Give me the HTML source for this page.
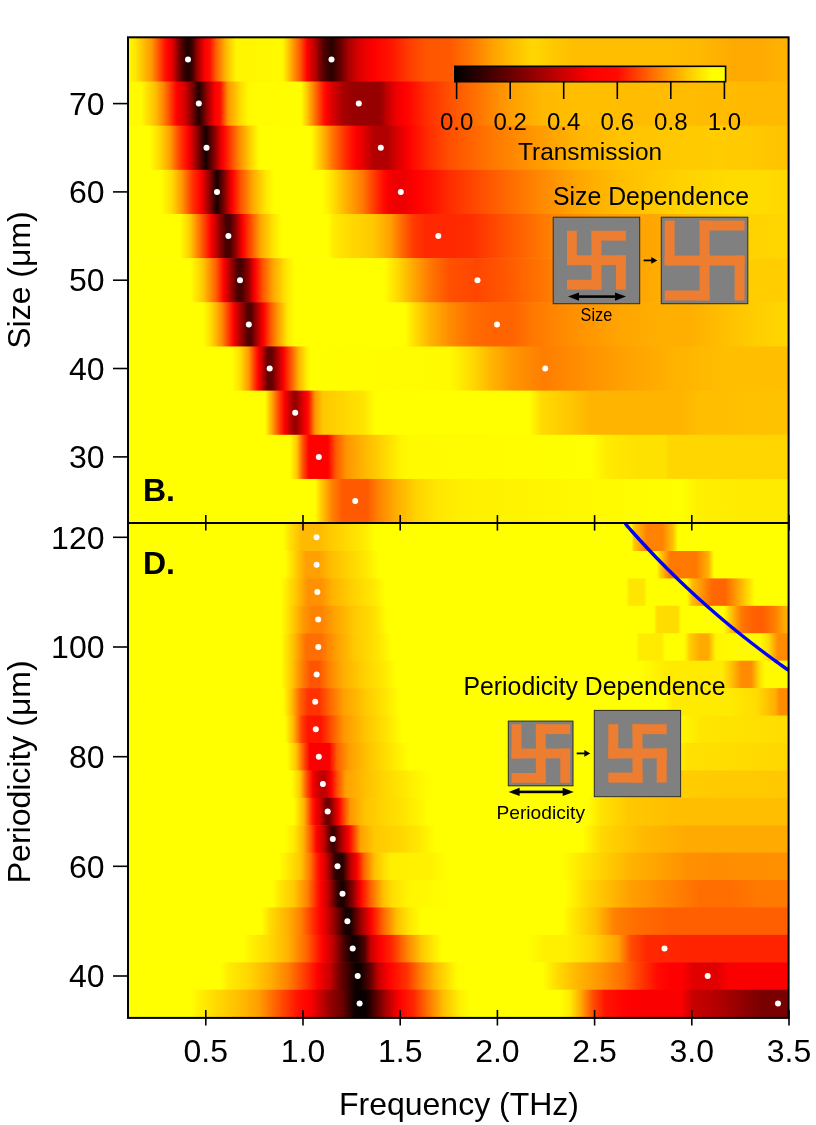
<!DOCTYPE html>
<html><head><meta charset="utf-8"><style>
html,body{margin:0;padding:0;background:#fff;}
svg{display:block;}
.ax{font-family:"Liberation Sans",Arial,sans-serif;font-size:32px;fill:#000;}
.bold{font-family:"Liberation Sans",Arial,sans-serif;font-size:32px;font-weight:bold;fill:#000;}
.cal{font-family:"Liberation Sans",Arial,sans-serif;fill:#000;}
</style></head><body>
<svg width="816" height="1125" viewBox="0 0 816 1125">
<rect width="816" height="1125" fill="#fff"/>
<defs><linearGradient id="g1" gradientUnits="userSpaceOnUse" x1="128.0" y1="0" x2="788.6" y2="0"><stop offset="0.0000" stop-color="#fffa00"/><stop offset="0.0112" stop-color="#ffe600"/><stop offset="0.0238" stop-color="#ffbe00"/><stop offset="0.0363" stop-color="#ff9600"/><stop offset="0.0469" stop-color="#ff5000"/><stop offset="0.0560" stop-color="#ff1400"/><stop offset="0.0613" stop-color="#ff0000"/><stop offset="0.0684" stop-color="#dc0000"/><stop offset="0.0772" stop-color="#780000"/><stop offset="0.0863" stop-color="#320000"/><stop offset="0.0908" stop-color="#1e0000"/><stop offset="0.0969" stop-color="#3c0000"/><stop offset="0.1045" stop-color="#960000"/><stop offset="0.1166" stop-color="#ff0000"/><stop offset="0.1241" stop-color="#ff0f00"/><stop offset="0.1332" stop-color="#ff5f00"/><stop offset="0.1483" stop-color="#ffb900"/><stop offset="0.1635" stop-color="#fff500"/><stop offset="0.2331" stop-color="#fffa00"/><stop offset="0.2392" stop-color="#ffdc00"/><stop offset="0.2490" stop-color="#ffa000"/><stop offset="0.2619" stop-color="#ff5000"/><stop offset="0.2710" stop-color="#ff0000"/><stop offset="0.2837" stop-color="#b40000"/><stop offset="0.2964" stop-color="#500000"/><stop offset="0.3084" stop-color="#280000"/><stop offset="0.3215" stop-color="#640000"/><stop offset="0.3342" stop-color="#aa0000"/><stop offset="0.3497" stop-color="#dc0000"/><stop offset="0.3721" stop-color="#ff0000"/><stop offset="0.3972" stop-color="#ff1400"/><stop offset="0.4254" stop-color="#ff3c00"/><stop offset="0.4508" stop-color="#ff5500"/><stop offset="0.4874" stop-color="#ff5a00"/><stop offset="0.5192" stop-color="#ff7800"/><stop offset="0.5506" stop-color="#ffa000"/><stop offset="0.5820" stop-color="#ffbe00"/><stop offset="0.6131" stop-color="#ffd700"/><stop offset="0.6449" stop-color="#ffc800"/><stop offset="0.6767" stop-color="#ffbe00"/><stop offset="0.8053" stop-color="#ffbe00"/><stop offset="0.8659" stop-color="#ffb900"/><stop offset="0.9158" stop-color="#ffaa00"/><stop offset="0.9567" stop-color="#ffaa00"/><stop offset="1.0000" stop-color="#ffb400"/></linearGradient>
<linearGradient id="g2" gradientUnits="userSpaceOnUse" x1="128.0" y1="0" x2="788.6" y2="0"><stop offset="0.0000" stop-color="#fffa00"/><stop offset="0.0203" stop-color="#fffa00"/><stop offset="0.0288" stop-color="#ffe100"/><stop offset="0.0416" stop-color="#ffbe00"/><stop offset="0.0542" stop-color="#ff8200"/><stop offset="0.0649" stop-color="#ff3c00"/><stop offset="0.0739" stop-color="#ff0000"/><stop offset="0.0846" stop-color="#dc0000"/><stop offset="0.0946" stop-color="#960000"/><stop offset="0.1075" stop-color="#1e0000"/><stop offset="0.1196" stop-color="#960000"/><stop offset="0.1317" stop-color="#ff0000"/><stop offset="0.1393" stop-color="#ff0a00"/><stop offset="0.1514" stop-color="#ff9600"/><stop offset="0.1703" stop-color="#ffdc00"/><stop offset="0.1832" stop-color="#fffa00"/><stop offset="0.2619" stop-color="#ffff00"/><stop offset="0.2710" stop-color="#ffc800"/><stop offset="0.2837" stop-color="#ff6e00"/><stop offset="0.2964" stop-color="#ff1400"/><stop offset="0.3009" stop-color="#ff0000"/><stop offset="0.3088" stop-color="#dc0000"/><stop offset="0.3247" stop-color="#aa0000"/><stop offset="0.3436" stop-color="#960000"/><stop offset="0.3815" stop-color="#960000"/><stop offset="0.3936" stop-color="#c80000"/><stop offset="0.4068" stop-color="#f00000"/><stop offset="0.4194" stop-color="#ff0000"/><stop offset="0.4254" stop-color="#ff0700"/><stop offset="0.4508" stop-color="#ff2d00"/><stop offset="0.4874" stop-color="#ff5000"/><stop offset="0.5344" stop-color="#ff7800"/><stop offset="0.5813" stop-color="#ffa000"/><stop offset="0.6297" stop-color="#ffb900"/><stop offset="0.6767" stop-color="#ffbe00"/><stop offset="1.0000" stop-color="#ffb900"/></linearGradient>
<linearGradient id="g3" gradientUnits="userSpaceOnUse" x1="128.0" y1="0" x2="788.6" y2="0"><stop offset="0.0000" stop-color="#ffff00"/><stop offset="0.0327" stop-color="#ffff00"/><stop offset="0.0469" stop-color="#ffdc00"/><stop offset="0.0631" stop-color="#ffa000"/><stop offset="0.0787" stop-color="#ff3c00"/><stop offset="0.0914" stop-color="#ff0000"/><stop offset="0.1040" stop-color="#960000"/><stop offset="0.1166" stop-color="#1e0000"/><stop offset="0.1185" stop-color="#1c0000"/><stop offset="0.1293" stop-color="#780000"/><stop offset="0.1418" stop-color="#f00000"/><stop offset="0.1444" stop-color="#ff0000"/><stop offset="0.1514" stop-color="#ff2800"/><stop offset="0.1671" stop-color="#ff8200"/><stop offset="0.1829" stop-color="#ffc800"/><stop offset="0.1983" stop-color="#ffff00"/><stop offset="0.2770" stop-color="#ffff00"/><stop offset="0.2932" stop-color="#ffbe00"/><stop offset="0.3088" stop-color="#ff7800"/><stop offset="0.3247" stop-color="#ff3c00"/><stop offset="0.3406" stop-color="#ff0a00"/><stop offset="0.3449" stop-color="#ff0000"/><stop offset="0.3557" stop-color="#e60000"/><stop offset="0.3724" stop-color="#b20000"/><stop offset="0.3936" stop-color="#b20000"/><stop offset="0.4068" stop-color="#d70000"/><stop offset="0.4254" stop-color="#ff0000"/><stop offset="0.4511" stop-color="#ff2800"/><stop offset="0.4874" stop-color="#ff5000"/><stop offset="0.5506" stop-color="#ff7800"/><stop offset="0.6131" stop-color="#ff9600"/><stop offset="0.6767" stop-color="#ffb400"/><stop offset="0.7448" stop-color="#ffc300"/><stop offset="0.8962" stop-color="#ffcd00"/><stop offset="1.0000" stop-color="#ffc300"/></linearGradient>
<linearGradient id="g4" gradientUnits="userSpaceOnUse" x1="128.0" y1="0" x2="788.6" y2="0"><stop offset="0.0000" stop-color="#ffff00"/><stop offset="0.0500" stop-color="#ffff00"/><stop offset="0.0662" stop-color="#ffdc00"/><stop offset="0.0817" stop-color="#ff9600"/><stop offset="0.0978" stop-color="#ff3200"/><stop offset="0.1105" stop-color="#ff0000"/><stop offset="0.1226" stop-color="#960000"/><stop offset="0.1340" stop-color="#1e0000"/><stop offset="0.1355" stop-color="#1e0000"/><stop offset="0.1450" stop-color="#780000"/><stop offset="0.1574" stop-color="#fa0000"/><stop offset="0.1582" stop-color="#ff0000"/><stop offset="0.1703" stop-color="#ff5000"/><stop offset="0.1892" stop-color="#ffaa00"/><stop offset="0.2081" stop-color="#ffe600"/><stop offset="0.2210" stop-color="#ffff00"/><stop offset="0.2932" stop-color="#ffff00"/><stop offset="0.3058" stop-color="#ffeb00"/><stop offset="0.3247" stop-color="#ffbe00"/><stop offset="0.3557" stop-color="#ff7800"/><stop offset="0.3721" stop-color="#ff3c00"/><stop offset="0.3875" stop-color="#ff0a00"/><stop offset="0.3927" stop-color="#ff0000"/><stop offset="0.4004" stop-color="#f00000"/><stop offset="0.4193" stop-color="#ee0000"/><stop offset="0.4345" stop-color="#ff0000"/><stop offset="0.4572" stop-color="#ff0f00"/><stop offset="0.4874" stop-color="#ff2d00"/><stop offset="0.5506" stop-color="#ff5a00"/><stop offset="0.6131" stop-color="#ff8200"/><stop offset="0.6767" stop-color="#ffa500"/><stop offset="0.7448" stop-color="#ffbe00"/><stop offset="0.8356" stop-color="#ffd200"/><stop offset="0.9158" stop-color="#ffdc00"/><stop offset="0.9628" stop-color="#ffdc00"/><stop offset="1.0000" stop-color="#ffd700"/></linearGradient>
<linearGradient id="g5" gradientUnits="userSpaceOnUse" x1="128.0" y1="0" x2="788.6" y2="0"><stop offset="0.0000" stop-color="#ffff00"/><stop offset="0.0787" stop-color="#ffff00"/><stop offset="0.0946" stop-color="#ffc800"/><stop offset="0.1105" stop-color="#ff6400"/><stop offset="0.1256" stop-color="#ff0000"/><stop offset="0.1388" stop-color="#960000"/><stop offset="0.1483" stop-color="#460000"/><stop offset="0.1544" stop-color="#460000"/><stop offset="0.1635" stop-color="#960000"/><stop offset="0.1735" stop-color="#ff0000"/><stop offset="0.1862" stop-color="#ff5000"/><stop offset="0.2013" stop-color="#ffaa00"/><stop offset="0.2207" stop-color="#ffe600"/><stop offset="0.2331" stop-color="#ffff00"/><stop offset="0.3028" stop-color="#ffff00"/><stop offset="0.3118" stop-color="#ffeb00"/><stop offset="0.3406" stop-color="#ffd700"/><stop offset="0.3721" stop-color="#ffc800"/><stop offset="0.3972" stop-color="#ffa000"/><stop offset="0.4130" stop-color="#ff6e00"/><stop offset="0.4314" stop-color="#ff3c00"/><stop offset="0.4511" stop-color="#ff2800"/><stop offset="0.4874" stop-color="#ff2800"/><stop offset="0.5192" stop-color="#ff2d00"/><stop offset="0.5662" stop-color="#ff5000"/><stop offset="0.6131" stop-color="#ff6e00"/><stop offset="0.6418" stop-color="#ff8200"/><stop offset="0.7145" stop-color="#ff9b00"/><stop offset="0.7902" stop-color="#ffa500"/><stop offset="0.8659" stop-color="#ffbe00"/><stop offset="0.9385" stop-color="#ffd200"/><stop offset="1.0000" stop-color="#ffd700"/></linearGradient>
<linearGradient id="g6" gradientUnits="userSpaceOnUse" x1="128.0" y1="0" x2="788.6" y2="0"><stop offset="0.0000" stop-color="#ffff00"/><stop offset="0.0946" stop-color="#ffff00"/><stop offset="0.1135" stop-color="#ffc800"/><stop offset="0.1325" stop-color="#ff6400"/><stop offset="0.1450" stop-color="#ff0000"/><stop offset="0.1574" stop-color="#960000"/><stop offset="0.1665" stop-color="#460000"/><stop offset="0.1718" stop-color="#460000"/><stop offset="0.1829" stop-color="#960000"/><stop offset="0.1922" stop-color="#ff0000"/><stop offset="0.2050" stop-color="#ff5a00"/><stop offset="0.2207" stop-color="#ffaa00"/><stop offset="0.2392" stop-color="#ffe600"/><stop offset="0.2528" stop-color="#ffff00"/><stop offset="0.3875" stop-color="#ffff00"/><stop offset="0.4068" stop-color="#ffdc00"/><stop offset="0.4314" stop-color="#ffaa00"/><stop offset="0.4572" stop-color="#ff7800"/><stop offset="0.4874" stop-color="#ff5000"/><stop offset="0.5283" stop-color="#ff4600"/><stop offset="0.5662" stop-color="#ff5500"/><stop offset="0.6131" stop-color="#ff6e00"/><stop offset="0.6418" stop-color="#ff7d00"/><stop offset="0.7145" stop-color="#ff9600"/><stop offset="0.7902" stop-color="#ffaa00"/><stop offset="0.8659" stop-color="#ffbe00"/><stop offset="0.9385" stop-color="#ffcd00"/><stop offset="1.0000" stop-color="#ffcd00"/></linearGradient>
<linearGradient id="g7" gradientUnits="userSpaceOnUse" x1="128.0" y1="0" x2="788.6" y2="0"><stop offset="0.0000" stop-color="#ffff00"/><stop offset="0.1135" stop-color="#ffff00"/><stop offset="0.1256" stop-color="#ffdc00"/><stop offset="0.1418" stop-color="#ff8c00"/><stop offset="0.1574" stop-color="#ff1400"/><stop offset="0.1599" stop-color="#ff0000"/><stop offset="0.1703" stop-color="#aa0000"/><stop offset="0.1817" stop-color="#500000"/><stop offset="0.1862" stop-color="#500000"/><stop offset="0.1953" stop-color="#aa0000"/><stop offset="0.2050" stop-color="#ff0000"/><stop offset="0.2177" stop-color="#ff6400"/><stop offset="0.2331" stop-color="#ffbe00"/><stop offset="0.2422" stop-color="#ffeb00"/><stop offset="0.2522" stop-color="#ffff00"/><stop offset="0.4193" stop-color="#ffff00"/><stop offset="0.4351" stop-color="#ffdc00"/><stop offset="0.4572" stop-color="#ffb400"/><stop offset="0.4874" stop-color="#ff8c00"/><stop offset="0.5192" stop-color="#ff6e00"/><stop offset="0.5506" stop-color="#ff6400"/><stop offset="0.5820" stop-color="#ff6400"/><stop offset="0.6131" stop-color="#ff7800"/><stop offset="0.6609" stop-color="#ff8c00"/><stop offset="0.7448" stop-color="#ffa500"/><stop offset="0.8053" stop-color="#ffaf00"/><stop offset="0.8507" stop-color="#ffaf00"/><stop offset="0.8992" stop-color="#ffbe00"/><stop offset="0.9476" stop-color="#ffcd00"/><stop offset="1.0000" stop-color="#ffd700"/></linearGradient>
<linearGradient id="g8" gradientUnits="userSpaceOnUse" x1="128.0" y1="0" x2="788.6" y2="0"><stop offset="0.0000" stop-color="#ffff00"/><stop offset="0.1574" stop-color="#ffff00"/><stop offset="0.1703" stop-color="#ffdc00"/><stop offset="0.1829" stop-color="#ff9600"/><stop offset="0.1922" stop-color="#ff3200"/><stop offset="0.1976" stop-color="#ff0000"/><stop offset="0.2013" stop-color="#dc0000"/><stop offset="0.2113" stop-color="#640000"/><stop offset="0.2177" stop-color="#640000"/><stop offset="0.2271" stop-color="#b40000"/><stop offset="0.2356" stop-color="#ff0000"/><stop offset="0.2361" stop-color="#ff0500"/><stop offset="0.2458" stop-color="#ff5000"/><stop offset="0.2586" stop-color="#ffb400"/><stop offset="0.2710" stop-color="#fff000"/><stop offset="0.2770" stop-color="#ffff00"/><stop offset="0.4874" stop-color="#fffa00"/><stop offset="0.5192" stop-color="#ffdc00"/><stop offset="0.5506" stop-color="#ffb400"/><stop offset="0.5820" stop-color="#ff9600"/><stop offset="0.6294" stop-color="#ff7d00"/><stop offset="0.6767" stop-color="#ff8c00"/><stop offset="0.7448" stop-color="#ffa000"/><stop offset="0.8356" stop-color="#ffb400"/><stop offset="0.9037" stop-color="#ffbe00"/><stop offset="1.0000" stop-color="#ffbe00"/></linearGradient>
<linearGradient id="g9" gradientUnits="userSpaceOnUse" x1="128.0" y1="0" x2="788.6" y2="0"><stop offset="0.0000" stop-color="#ffff00"/><stop offset="0.2074" stop-color="#ffff00"/><stop offset="0.2165" stop-color="#ffb400"/><stop offset="0.2295" stop-color="#ff3c00"/><stop offset="0.2370" stop-color="#ff0000"/><stop offset="0.2389" stop-color="#f00000"/><stop offset="0.2513" stop-color="#960000"/><stop offset="0.2543" stop-color="#960000"/><stop offset="0.2642" stop-color="#dc0000"/><stop offset="0.2702" stop-color="#ff0000"/><stop offset="0.2736" stop-color="#ff1400"/><stop offset="0.2831" stop-color="#ff9600"/><stop offset="0.2952" stop-color="#ffc800"/><stop offset="0.3270" stop-color="#ffd700"/><stop offset="0.3588" stop-color="#ffe600"/><stop offset="0.3739" stop-color="#ffff00"/><stop offset="0.6070" stop-color="#ffff00"/><stop offset="0.6252" stop-color="#ffdc00"/><stop offset="0.6751" stop-color="#ffc300"/><stop offset="0.7009" stop-color="#ffb400"/><stop offset="0.8326" stop-color="#ffb400"/><stop offset="0.8644" stop-color="#ffbe00"/><stop offset="1.0000" stop-color="#ffc300"/></linearGradient>
<linearGradient id="g10" gradientUnits="userSpaceOnUse" x1="128.0" y1="0" x2="788.6" y2="0"><stop offset="0.0000" stop-color="#ffff00"/><stop offset="0.2452" stop-color="#ffff00"/><stop offset="0.2554" stop-color="#ffc800"/><stop offset="0.2649" stop-color="#ff5000"/><stop offset="0.2740" stop-color="#ff0000"/><stop offset="0.3028" stop-color="#ff0000"/><stop offset="0.3149" stop-color="#ff5a00"/><stop offset="0.3311" stop-color="#ff9600"/><stop offset="0.3557" stop-color="#ffb400"/><stop offset="0.3875" stop-color="#ffd700"/><stop offset="0.4133" stop-color="#fff500"/><stop offset="0.4269" stop-color="#fffa00"/><stop offset="0.7009" stop-color="#ffff00"/><stop offset="0.7251" stop-color="#ffeb00"/><stop offset="0.7690" stop-color="#ffe100"/><stop offset="0.8129" stop-color="#ffe100"/><stop offset="0.8190" stop-color="#ffd700"/><stop offset="1.0000" stop-color="#ffd500"/></linearGradient>
<linearGradient id="g11" gradientUnits="userSpaceOnUse" x1="128.0" y1="0" x2="788.6" y2="0"><stop offset="0.0000" stop-color="#ffff00"/><stop offset="0.2837" stop-color="#ffff00"/><stop offset="0.2932" stop-color="#ffc800"/><stop offset="0.3088" stop-color="#ff8200"/><stop offset="0.3247" stop-color="#ff5a00"/><stop offset="0.3625" stop-color="#ff5a00"/><stop offset="0.3784" stop-color="#ff8200"/><stop offset="0.4036" stop-color="#ffaa00"/><stop offset="0.4351" stop-color="#ffd200"/><stop offset="0.4662" stop-color="#ffe600"/><stop offset="0.4874" stop-color="#ffeb00"/><stop offset="0.5086" stop-color="#fff000"/><stop offset="0.8386" stop-color="#ffff00"/><stop offset="0.8629" stop-color="#fff000"/><stop offset="0.9264" stop-color="#ffeb00"/><stop offset="1.0000" stop-color="#ffeb00"/></linearGradient>
<linearGradient id="g12" gradientUnits="userSpaceOnUse" x1="128.0" y1="0" x2="788.6" y2="0"><stop offset="0.0000" stop-color="#ffff00"/><stop offset="0.2346" stop-color="#ffff00"/><stop offset="0.2446" stop-color="#ffe100"/><stop offset="0.2634" stop-color="#ffb900"/><stop offset="0.2891" stop-color="#ffb900"/><stop offset="0.3043" stop-color="#ffc800"/><stop offset="0.3266" stop-color="#ffd700"/><stop offset="0.3582" stop-color="#ffeb00"/><stop offset="0.3739" stop-color="#ffff00"/><stop offset="0.7622" stop-color="#ffff00"/><stop offset="0.7660" stop-color="#ffc800"/><stop offset="0.7856" stop-color="#ff8200"/><stop offset="0.8084" stop-color="#ff8200"/><stop offset="0.8244" stop-color="#ffbe00"/><stop offset="0.8326" stop-color="#ffff00"/><stop offset="1.0000" stop-color="#ffff00"/></linearGradient>
<linearGradient id="g13" gradientUnits="userSpaceOnUse" x1="128.0" y1="0" x2="788.6" y2="0"><stop offset="0.0000" stop-color="#ffff00"/><stop offset="0.2377" stop-color="#ffff00"/><stop offset="0.2509" stop-color="#ffd700"/><stop offset="0.2695" stop-color="#ffa000"/><stop offset="0.2891" stop-color="#ffa000"/><stop offset="0.3043" stop-color="#ffb900"/><stop offset="0.3266" stop-color="#ffcd00"/><stop offset="0.3582" stop-color="#ffe600"/><stop offset="0.3800" stop-color="#ffff00"/><stop offset="0.8008" stop-color="#ffff00"/><stop offset="0.8053" stop-color="#ffd200"/><stop offset="0.8205" stop-color="#ff7800"/><stop offset="0.8598" stop-color="#ff7800"/><stop offset="0.8790" stop-color="#ffb400"/><stop offset="0.8871" stop-color="#ffff00"/><stop offset="1.0000" stop-color="#ffff00"/></linearGradient>
<linearGradient id="g14" gradientUnits="userSpaceOnUse" x1="128.0" y1="0" x2="788.6" y2="0"><stop offset="0.0000" stop-color="#ffff00"/><stop offset="0.2316" stop-color="#ffff00"/><stop offset="0.2540" stop-color="#ffc800"/><stop offset="0.2725" stop-color="#ff9100"/><stop offset="0.2922" stop-color="#ff9100"/><stop offset="0.3103" stop-color="#ffb400"/><stop offset="0.3421" stop-color="#ffd200"/><stop offset="0.3739" stop-color="#ffeb00"/><stop offset="0.3890" stop-color="#ffff00"/><stop offset="0.7539" stop-color="#ffff00"/><stop offset="0.7584" stop-color="#ffe600"/><stop offset="0.7811" stop-color="#ffe600"/><stop offset="0.7856" stop-color="#ffff00"/><stop offset="0.8462" stop-color="#ffff00"/><stop offset="0.8538" stop-color="#ffbe00"/><stop offset="0.8840" stop-color="#ff6900"/><stop offset="0.9037" stop-color="#ff6400"/><stop offset="0.9249" stop-color="#ffaa00"/><stop offset="0.9491" stop-color="#ffff00"/><stop offset="1.0000" stop-color="#ffff00"/></linearGradient>
<linearGradient id="g15" gradientUnits="userSpaceOnUse" x1="128.0" y1="0" x2="788.6" y2="0"><stop offset="0.0000" stop-color="#ffff00"/><stop offset="0.2316" stop-color="#ffff00"/><stop offset="0.2478" stop-color="#ffd200"/><stop offset="0.2664" stop-color="#ff9600"/><stop offset="0.2793" stop-color="#ff8200"/><stop offset="0.2922" stop-color="#ff8200"/><stop offset="0.3103" stop-color="#ffa000"/><stop offset="0.3421" stop-color="#ffc800"/><stop offset="0.3739" stop-color="#ffe100"/><stop offset="0.3928" stop-color="#ffff00"/><stop offset="0.7962" stop-color="#ffff00"/><stop offset="0.8008" stop-color="#ffdc00"/><stop offset="0.8326" stop-color="#ffdc00"/><stop offset="0.8371" stop-color="#ffff00"/><stop offset="0.9022" stop-color="#ffff00"/><stop offset="0.9119" stop-color="#ffc800"/><stop offset="0.9287" stop-color="#ff7800"/><stop offset="0.9472" stop-color="#ff5f00"/><stop offset="0.9620" stop-color="#ff5f00"/><stop offset="0.9806" stop-color="#ff8200"/><stop offset="0.9973" stop-color="#ffb400"/><stop offset="1.0000" stop-color="#ffb900"/></linearGradient>
<linearGradient id="g16" gradientUnits="userSpaceOnUse" x1="128.0" y1="0" x2="788.6" y2="0"><stop offset="0.0000" stop-color="#ffff00"/><stop offset="0.2316" stop-color="#ffff00"/><stop offset="0.2509" stop-color="#ffbe00"/><stop offset="0.2695" stop-color="#ff6e00"/><stop offset="0.2922" stop-color="#ff6e00"/><stop offset="0.3103" stop-color="#ff9600"/><stop offset="0.3421" stop-color="#ffc800"/><stop offset="0.3800" stop-color="#ffe600"/><stop offset="0.3992" stop-color="#ffff00"/><stop offset="0.7690" stop-color="#ffff00"/><stop offset="0.7735" stop-color="#ffeb00"/><stop offset="0.8084" stop-color="#ffeb00"/><stop offset="0.8129" stop-color="#ffff00"/><stop offset="0.8417" stop-color="#ffff00"/><stop offset="0.8507" stop-color="#ffcd00"/><stop offset="0.8659" stop-color="#ffaa00"/><stop offset="0.8780" stop-color="#ffaa00"/><stop offset="0.8901" stop-color="#fff500"/><stop offset="0.9098" stop-color="#fffa00"/><stop offset="0.9567" stop-color="#fffa00"/><stop offset="0.9694" stop-color="#ffdc00"/><stop offset="0.9840" stop-color="#ff8c00"/><stop offset="1.0000" stop-color="#ff8c00"/></linearGradient>
<linearGradient id="g17" gradientUnits="userSpaceOnUse" x1="128.0" y1="0" x2="788.6" y2="0"><stop offset="0.0000" stop-color="#ffff00"/><stop offset="0.2316" stop-color="#ffff00"/><stop offset="0.2478" stop-color="#ffc800"/><stop offset="0.2634" stop-color="#ff8200"/><stop offset="0.2755" stop-color="#ff5500"/><stop offset="0.2891" stop-color="#ff5500"/><stop offset="0.3043" stop-color="#ff8200"/><stop offset="0.3266" stop-color="#ffaf00"/><stop offset="0.3582" stop-color="#ffd200"/><stop offset="0.3896" stop-color="#ffeb00"/><stop offset="0.4057" stop-color="#ffff00"/><stop offset="0.7735" stop-color="#ffff00"/><stop offset="0.8159" stop-color="#ffeb00"/><stop offset="0.8886" stop-color="#ffeb00"/><stop offset="0.8992" stop-color="#ffeb00"/><stop offset="0.9113" stop-color="#ffc800"/><stop offset="0.9287" stop-color="#ff8c00"/><stop offset="0.9435" stop-color="#ff8c00"/><stop offset="0.9546" stop-color="#ffd700"/><stop offset="0.9643" stop-color="#fffa00"/><stop offset="1.0000" stop-color="#fffa00"/></linearGradient>
<linearGradient id="g18" gradientUnits="userSpaceOnUse" x1="128.0" y1="0" x2="788.6" y2="0"><stop offset="0.0000" stop-color="#ffff00"/><stop offset="0.2346" stop-color="#ffff00"/><stop offset="0.2478" stop-color="#ffbe00"/><stop offset="0.2604" stop-color="#ff6400"/><stop offset="0.2725" stop-color="#ff3200"/><stop offset="0.2891" stop-color="#ff3200"/><stop offset="0.3043" stop-color="#ff6400"/><stop offset="0.3266" stop-color="#ffa000"/><stop offset="0.3582" stop-color="#ffc800"/><stop offset="0.3896" stop-color="#ffe600"/><stop offset="0.4117" stop-color="#ffff00"/><stop offset="0.8129" stop-color="#ffff00"/><stop offset="0.8250" stop-color="#ffeb00"/><stop offset="0.9098" stop-color="#ffeb00"/><stop offset="0.9522" stop-color="#ffdc00"/><stop offset="0.9794" stop-color="#ffaf00"/><stop offset="0.9870" stop-color="#ff8c00"/><stop offset="1.0000" stop-color="#ff8c00"/></linearGradient>
<linearGradient id="g19" gradientUnits="userSpaceOnUse" x1="128.0" y1="0" x2="788.6" y2="0"><stop offset="0.0000" stop-color="#ffff00"/><stop offset="0.2377" stop-color="#ffff00"/><stop offset="0.2509" stop-color="#ffb400"/><stop offset="0.2634" stop-color="#ff3c00"/><stop offset="0.2725" stop-color="#ff1400"/><stop offset="0.2922" stop-color="#ff1400"/><stop offset="0.3103" stop-color="#ff5a00"/><stop offset="0.3266" stop-color="#ff9600"/><stop offset="0.3582" stop-color="#ffc300"/><stop offset="0.3896" stop-color="#ffe100"/><stop offset="0.4148" stop-color="#ffff00"/><stop offset="0.8235" stop-color="#ffff00"/><stop offset="0.8674" stop-color="#ffe600"/><stop offset="1.0000" stop-color="#ffdc00"/></linearGradient>
<linearGradient id="g20" gradientUnits="userSpaceOnUse" x1="128.0" y1="0" x2="788.6" y2="0"><stop offset="0.0000" stop-color="#ffff00"/><stop offset="0.2407" stop-color="#ffff00"/><stop offset="0.2540" stop-color="#ffc800"/><stop offset="0.2664" stop-color="#ff5000"/><stop offset="0.2750" stop-color="#ff0000"/><stop offset="0.2755" stop-color="#fa0000"/><stop offset="0.3043" stop-color="#fa0000"/><stop offset="0.3049" stop-color="#ff0000"/><stop offset="0.3171" stop-color="#ff6400"/><stop offset="0.3361" stop-color="#ffa000"/><stop offset="0.3675" stop-color="#ffc800"/><stop offset="0.3992" stop-color="#ffe600"/><stop offset="0.4239" stop-color="#ffff00"/><stop offset="0.8235" stop-color="#ffff00"/><stop offset="0.8462" stop-color="#ffe100"/><stop offset="1.0000" stop-color="#ffd700"/></linearGradient>
<linearGradient id="g21" gradientUnits="userSpaceOnUse" x1="128.0" y1="0" x2="788.6" y2="0"><stop offset="0.0000" stop-color="#ffff00"/><stop offset="0.2478" stop-color="#ffff00"/><stop offset="0.2604" stop-color="#ffc800"/><stop offset="0.2725" stop-color="#ff3c00"/><stop offset="0.2795" stop-color="#ff0000"/><stop offset="0.2825" stop-color="#e60000"/><stop offset="0.2922" stop-color="#be0000"/><stop offset="0.2982" stop-color="#be0000"/><stop offset="0.3073" stop-color="#fa0000"/><stop offset="0.3079" stop-color="#ff0000"/><stop offset="0.3171" stop-color="#ff5000"/><stop offset="0.3297" stop-color="#ffa000"/><stop offset="0.3582" stop-color="#ffbe00"/><stop offset="0.3896" stop-color="#ffd700"/><stop offset="0.4208" stop-color="#ffeb00"/><stop offset="0.4420" stop-color="#fff700"/><stop offset="0.4602" stop-color="#ffff00"/><stop offset="0.6994" stop-color="#ffff00"/><stop offset="0.7751" stop-color="#ffd700"/><stop offset="0.8371" stop-color="#ffcd00"/><stop offset="1.0000" stop-color="#ffc800"/></linearGradient>
<linearGradient id="g22" gradientUnits="userSpaceOnUse" x1="128.0" y1="0" x2="788.6" y2="0"><stop offset="0.0000" stop-color="#ffff00"/><stop offset="0.2509" stop-color="#ffff00"/><stop offset="0.2664" stop-color="#ffb400"/><stop offset="0.2793" stop-color="#ff1e00"/><stop offset="0.2838" stop-color="#ff0000"/><stop offset="0.2922" stop-color="#c80000"/><stop offset="0.2997" stop-color="#6e0000"/><stop offset="0.3043" stop-color="#6e0000"/><stop offset="0.3140" stop-color="#c80000"/><stop offset="0.3195" stop-color="#ff0000"/><stop offset="0.3235" stop-color="#ff2800"/><stop offset="0.3361" stop-color="#ff9600"/><stop offset="0.3582" stop-color="#ffc300"/><stop offset="0.3896" stop-color="#ffd700"/><stop offset="0.4208" stop-color="#ffe600"/><stop offset="0.4420" stop-color="#fff500"/><stop offset="0.4541" stop-color="#ffff00"/><stop offset="0.6540" stop-color="#ffff00"/><stop offset="0.6963" stop-color="#ffff00"/><stop offset="0.7175" stop-color="#ffe100"/><stop offset="0.7599" stop-color="#ffc800"/><stop offset="0.8250" stop-color="#ffbe00"/><stop offset="1.0000" stop-color="#ffbe00"/></linearGradient>
<linearGradient id="g23" gradientUnits="userSpaceOnUse" x1="128.0" y1="0" x2="788.6" y2="0"><stop offset="0.0000" stop-color="#ffff00"/><stop offset="0.2369" stop-color="#ffff00"/><stop offset="0.2511" stop-color="#ffeb00"/><stop offset="0.2654" stop-color="#ffb400"/><stop offset="0.2776" stop-color="#ff5000"/><stop offset="0.2858" stop-color="#ff0000"/><stop offset="0.2961" stop-color="#c80000"/><stop offset="0.3062" stop-color="#5a0000"/><stop offset="0.3088" stop-color="#3c0000"/><stop offset="0.3118" stop-color="#3c0000"/><stop offset="0.3235" stop-color="#aa0000"/><stop offset="0.3347" stop-color="#ff0000"/><stop offset="0.3361" stop-color="#ff0a00"/><stop offset="0.3518" stop-color="#ffa000"/><stop offset="0.3728" stop-color="#ffc800"/><stop offset="0.4117" stop-color="#ffd700"/><stop offset="0.4375" stop-color="#ffe600"/><stop offset="0.4662" stop-color="#ffff00"/><stop offset="0.6540" stop-color="#ffff00"/><stop offset="0.6880" stop-color="#ffff00"/><stop offset="0.7175" stop-color="#ffd700"/><stop offset="0.7819" stop-color="#ffb900"/><stop offset="0.8462" stop-color="#ffaa00"/><stop offset="1.0000" stop-color="#ffaa00"/></linearGradient>
<linearGradient id="g24" gradientUnits="userSpaceOnUse" x1="128.0" y1="0" x2="788.6" y2="0"><stop offset="0.0000" stop-color="#ffff00"/><stop offset="0.2286" stop-color="#ffff00"/><stop offset="0.2407" stop-color="#ffeb00"/><stop offset="0.2613" stop-color="#ffc800"/><stop offset="0.2755" stop-color="#ff7800"/><stop offset="0.2876" stop-color="#ff1400"/><stop offset="0.2915" stop-color="#ff0000"/><stop offset="0.2982" stop-color="#dc0000"/><stop offset="0.3082" stop-color="#780000"/><stop offset="0.3134" stop-color="#320000"/><stop offset="0.3186" stop-color="#280000"/><stop offset="0.3255" stop-color="#280000"/><stop offset="0.3361" stop-color="#b40000"/><stop offset="0.3467" stop-color="#ff0000"/><stop offset="0.3573" stop-color="#ff6400"/><stop offset="0.3728" stop-color="#ffbe00"/><stop offset="0.3884" stop-color="#ffe100"/><stop offset="0.3981" stop-color="#fff000"/><stop offset="0.4587" stop-color="#fff200"/><stop offset="0.4844" stop-color="#ffff00"/><stop offset="0.6540" stop-color="#ffff00"/><stop offset="0.6963" stop-color="#ffe100"/><stop offset="0.7599" stop-color="#ffb400"/><stop offset="0.8462" stop-color="#ff9100"/><stop offset="0.8886" stop-color="#ff8c00"/><stop offset="1.0000" stop-color="#ff9100"/></linearGradient>
<linearGradient id="g25" gradientUnits="userSpaceOnUse" x1="128.0" y1="0" x2="788.6" y2="0"><stop offset="0.0000" stop-color="#ffff00"/><stop offset="0.2184" stop-color="#ffff00"/><stop offset="0.2307" stop-color="#ffe600"/><stop offset="0.2513" stop-color="#ffc800"/><stop offset="0.2716" stop-color="#ff8200"/><stop offset="0.2879" stop-color="#ff1400"/><stop offset="0.2917" stop-color="#ff0000"/><stop offset="0.3021" stop-color="#c80000"/><stop offset="0.3164" stop-color="#3c0000"/><stop offset="0.3218" stop-color="#1e0000"/><stop offset="0.3266" stop-color="#1e0000"/><stop offset="0.3417" stop-color="#960000"/><stop offset="0.3521" stop-color="#ff0000"/><stop offset="0.3678" stop-color="#ff6400"/><stop offset="0.3860" stop-color="#ffbe00"/><stop offset="0.3989" stop-color="#ffdc00"/><stop offset="0.4248" stop-color="#fff500"/><stop offset="0.4897" stop-color="#ffff00"/><stop offset="0.6615" stop-color="#ffff00"/><stop offset="0.6963" stop-color="#ffd700"/><stop offset="0.7599" stop-color="#ffa000"/><stop offset="0.8250" stop-color="#ff8200"/><stop offset="0.8674" stop-color="#ff6e00"/><stop offset="0.9098" stop-color="#ff6e00"/><stop offset="0.9522" stop-color="#ff7800"/><stop offset="1.0000" stop-color="#ff7800"/></linearGradient>
<linearGradient id="g26" gradientUnits="userSpaceOnUse" x1="128.0" y1="0" x2="788.6" y2="0"><stop offset="0.0000" stop-color="#ffff00"/><stop offset="0.2022" stop-color="#ffff00"/><stop offset="0.2144" stop-color="#ffdc00"/><stop offset="0.2407" stop-color="#ffb400"/><stop offset="0.2613" stop-color="#ff8200"/><stop offset="0.2816" stop-color="#ff2800"/><stop offset="0.2921" stop-color="#ff0000"/><stop offset="0.2961" stop-color="#f00000"/><stop offset="0.3123" stop-color="#960000"/><stop offset="0.3297" stop-color="#140000"/><stop offset="0.3361" stop-color="#140000"/><stop offset="0.3521" stop-color="#960000"/><stop offset="0.3678" stop-color="#ff0000"/><stop offset="0.3860" stop-color="#ff6400"/><stop offset="0.4066" stop-color="#ffbe00"/><stop offset="0.4248" stop-color="#ffe600"/><stop offset="0.4450" stop-color="#ffff00"/><stop offset="0.6570" stop-color="#ffff00"/><stop offset="0.6797" stop-color="#ffe100"/><stop offset="0.7092" stop-color="#ffbe00"/><stop offset="0.7357" stop-color="#ff8200"/><stop offset="0.7675" stop-color="#ff6e00"/><stop offset="0.8205" stop-color="#ff5f00"/><stop offset="1.0000" stop-color="#ff5f00"/></linearGradient>
<linearGradient id="g27" gradientUnits="userSpaceOnUse" x1="128.0" y1="0" x2="788.6" y2="0"><stop offset="0.0000" stop-color="#ffff00"/><stop offset="0.1726" stop-color="#ffff00"/><stop offset="0.1877" stop-color="#fff000"/><stop offset="0.2119" stop-color="#ffdc00"/><stop offset="0.2416" stop-color="#ffb400"/><stop offset="0.2710" stop-color="#ff6400"/><stop offset="0.2891" stop-color="#ff1400"/><stop offset="0.2944" stop-color="#ff0000"/><stop offset="0.3088" stop-color="#c80000"/><stop offset="0.3292" stop-color="#3c0000"/><stop offset="0.3391" stop-color="#140000"/><stop offset="0.3467" stop-color="#140000"/><stop offset="0.3592" stop-color="#5a0000"/><stop offset="0.3663" stop-color="#be0000"/><stop offset="0.3797" stop-color="#fa0000"/><stop offset="0.3819" stop-color="#ff0000"/><stop offset="0.3996" stop-color="#ff2800"/><stop offset="0.4220" stop-color="#ff8200"/><stop offset="0.4443" stop-color="#ffc800"/><stop offset="0.4662" stop-color="#fff000"/><stop offset="0.4753" stop-color="#ffff00"/><stop offset="0.6055" stop-color="#ffff00"/><stop offset="0.6312" stop-color="#fff000"/><stop offset="0.6645" stop-color="#fff000"/><stop offset="0.7018" stop-color="#ffd700"/><stop offset="0.7145" stop-color="#ffc800"/><stop offset="0.7427" stop-color="#ffa000"/><stop offset="0.7599" stop-color="#ff5000"/><stop offset="0.7850" stop-color="#ff2800"/><stop offset="0.8659" stop-color="#ff2300"/><stop offset="1.0000" stop-color="#ff2300"/></linearGradient>
<linearGradient id="g28" gradientUnits="userSpaceOnUse" x1="128.0" y1="0" x2="788.6" y2="0"><stop offset="0.0000" stop-color="#ffff00"/><stop offset="0.1408" stop-color="#ffff00"/><stop offset="0.1526" stop-color="#ffeb00"/><stop offset="0.1823" stop-color="#ffd700"/><stop offset="0.2119" stop-color="#ffb400"/><stop offset="0.2416" stop-color="#ff8200"/><stop offset="0.2710" stop-color="#ff3200"/><stop offset="0.2875" stop-color="#ff0000"/><stop offset="0.2891" stop-color="#fa0000"/><stop offset="0.3058" stop-color="#c80000"/><stop offset="0.3191" stop-color="#780000"/><stop offset="0.3442" stop-color="#0f0000"/><stop offset="0.3517" stop-color="#0f0000"/><stop offset="0.3663" stop-color="#5a0000"/><stop offset="0.3797" stop-color="#c80000"/><stop offset="0.3951" stop-color="#ff0000"/><stop offset="0.4220" stop-color="#ff3200"/><stop offset="0.4443" stop-color="#ff8200"/><stop offset="0.4662" stop-color="#ffbe00"/><stop offset="0.4889" stop-color="#ffeb00"/><stop offset="0.4995" stop-color="#fffd00"/><stop offset="0.5162" stop-color="#ffff00"/><stop offset="0.6275" stop-color="#ffff00"/><stop offset="0.6494" stop-color="#ffdc00"/><stop offset="0.6827" stop-color="#ffb400"/><stop offset="0.7145" stop-color="#ff9600"/><stop offset="0.7493" stop-color="#ff6e00"/><stop offset="0.7850" stop-color="#ff2800"/><stop offset="0.8023" stop-color="#ff0a00"/><stop offset="0.8205" stop-color="#ff0000"/><stop offset="0.8379" stop-color="#ff0000"/><stop offset="0.8553" stop-color="#e10000"/><stop offset="0.8907" stop-color="#e10000"/><stop offset="0.9083" stop-color="#fa0000"/><stop offset="1.0000" stop-color="#fa0000"/></linearGradient>
<linearGradient id="g29" gradientUnits="userSpaceOnUse" x1="128.0" y1="0" x2="788.6" y2="0"><stop offset="0.0000" stop-color="#ffff00"/><stop offset="0.0963" stop-color="#ffff00"/><stop offset="0.1081" stop-color="#fff000"/><stop offset="0.1378" stop-color="#ffd700"/><stop offset="0.1674" stop-color="#ffbe00"/><stop offset="0.1968" stop-color="#ffa000"/><stop offset="0.2268" stop-color="#ff5a00"/><stop offset="0.2566" stop-color="#ff1400"/><stop offset="0.2729" stop-color="#ff0000"/><stop offset="0.2770" stop-color="#fa0000"/><stop offset="0.3058" stop-color="#960000"/><stop offset="0.3239" stop-color="#6e0000"/><stop offset="0.3442" stop-color="#0a0000"/><stop offset="0.3592" stop-color="#0a0000"/><stop offset="0.3663" stop-color="#280000"/><stop offset="0.3886" stop-color="#a00000"/><stop offset="0.4108" stop-color="#ff0000"/><stop offset="0.4329" stop-color="#ff2800"/><stop offset="0.4553" stop-color="#ff7800"/><stop offset="0.4776" stop-color="#ffbe00"/><stop offset="0.4995" stop-color="#ffeb00"/><stop offset="0.5177" stop-color="#ffff00"/><stop offset="0.5344" stop-color="#ffff00"/><stop offset="0.6540" stop-color="#ffff00"/><stop offset="0.6691" stop-color="#ffeb00"/><stop offset="0.6842" stop-color="#ffaf00"/><stop offset="0.7031" stop-color="#ff5000"/><stop offset="0.7221" stop-color="#ff1400"/><stop offset="0.7493" stop-color="#ff0300"/><stop offset="0.7627" stop-color="#ff0000"/><stop offset="0.7850" stop-color="#fa0000"/><stop offset="0.8379" stop-color="#fa0000"/><stop offset="0.8553" stop-color="#c80000"/><stop offset="0.8907" stop-color="#b40000"/><stop offset="0.9260" stop-color="#960000"/><stop offset="0.9612" stop-color="#780000"/><stop offset="1.0000" stop-color="#780000"/></linearGradient>
<linearGradient id="cbg" x1="0" y1="0" x2="1" y2="0"><stop offset="0.000" stop-color="#000000"/><stop offset="0.500" stop-color="#ff0000"/><stop offset="0.600" stop-color="#ff0a00"/><stop offset="0.750" stop-color="#ff7d00"/><stop offset="0.860" stop-color="#ffc800"/><stop offset="0.950" stop-color="#ffff00"/><stop offset="1.000" stop-color="#ffff00"/></linearGradient></defs>
<rect x="128.0" y="37.34" width="660.6" height="44.76" fill="url(#g1)"/>
<rect x="128.0" y="81.50" width="660.6" height="44.76" fill="url(#g2)"/>
<rect x="128.0" y="125.66" width="660.6" height="44.76" fill="url(#g3)"/>
<rect x="128.0" y="169.82" width="660.6" height="44.76" fill="url(#g4)"/>
<rect x="128.0" y="213.98" width="660.6" height="44.76" fill="url(#g5)"/>
<rect x="128.0" y="258.14" width="660.6" height="44.76" fill="url(#g6)"/>
<rect x="128.0" y="302.30" width="660.6" height="44.76" fill="url(#g7)"/>
<rect x="128.0" y="346.46" width="660.6" height="44.76" fill="url(#g8)"/>
<rect x="128.0" y="390.62" width="660.6" height="44.76" fill="url(#g9)"/>
<rect x="128.0" y="434.78" width="660.6" height="44.76" fill="url(#g10)"/>
<rect x="128.0" y="478.94" width="660.6" height="44.66" fill="url(#g11)"/>
<rect x="128.0" y="522.98" width="660.6" height="28.62" fill="url(#g12)"/>
<rect x="128.0" y="551.00" width="660.6" height="28.02" fill="url(#g13)"/>
<rect x="128.0" y="578.42" width="660.6" height="28.02" fill="url(#g14)"/>
<rect x="128.0" y="605.84" width="660.6" height="28.02" fill="url(#g15)"/>
<rect x="128.0" y="633.26" width="660.6" height="28.02" fill="url(#g16)"/>
<rect x="128.0" y="660.68" width="660.6" height="28.02" fill="url(#g17)"/>
<rect x="128.0" y="688.10" width="660.6" height="28.02" fill="url(#g18)"/>
<rect x="128.0" y="715.52" width="660.6" height="28.02" fill="url(#g19)"/>
<rect x="128.0" y="742.94" width="660.6" height="28.02" fill="url(#g20)"/>
<rect x="128.0" y="770.36" width="660.6" height="28.02" fill="url(#g21)"/>
<rect x="128.0" y="797.78" width="660.6" height="28.02" fill="url(#g22)"/>
<rect x="128.0" y="825.20" width="660.6" height="28.02" fill="url(#g23)"/>
<rect x="128.0" y="852.62" width="660.6" height="28.02" fill="url(#g24)"/>
<rect x="128.0" y="880.04" width="660.6" height="28.02" fill="url(#g25)"/>
<rect x="128.0" y="907.46" width="660.6" height="28.02" fill="url(#g26)"/>
<rect x="128.0" y="934.88" width="660.6" height="28.02" fill="url(#g27)"/>
<rect x="128.0" y="962.30" width="660.6" height="28.02" fill="url(#g28)"/>
<rect x="128.0" y="989.72" width="660.6" height="28.22" fill="url(#g29)"/>
<polyline points="625.1,523.5 626.8,525.5 628.6,527.5 630.3,529.5 632.1,531.5 633.9,533.5 635.7,535.5 637.5,537.5 639.3,539.5 641.2,541.5 643.0,543.5 644.9,545.5 646.7,547.5 648.6,549.5 650.5,551.5 652.4,553.5 654.3,555.5 656.2,557.5 658.2,559.5 660.1,561.5 662.1,563.5 664.1,565.5 666.0,567.5 668.0,569.5 670.1,571.5 672.1,573.5 674.1,575.5 676.2,577.5 678.2,579.5 680.3,581.5 682.4,583.5 684.5,585.5 686.6,587.5 688.8,589.5 690.9,591.5 693.1,593.5 695.2,595.5 697.4,597.5 699.6,599.5 701.9,601.5 704.1,603.5 706.3,605.5 708.6,607.5 710.9,609.5 713.2,611.5 715.5,613.5 717.8,615.5 720.2,617.5 722.5,619.5 724.9,621.5 727.3,623.5 729.7,625.5 732.1,627.5 734.6,629.5 737.0,631.5 739.5,633.5 742.0,635.5 744.5,637.5 747.1,639.5 749.6,641.5 752.2,643.5 754.8,645.5 757.4,647.5 760.0,649.5 762.7,651.5 765.3,653.5 768.0,655.5 770.7,657.5 773.4,659.5 776.2,661.5 778.9,663.5 781.7,665.5 784.5,667.5 787.4,669.5 788.6,670.4" fill="none" stroke="#0000ff" stroke-width="3.4" stroke-linejoin="round"/>
<circle cx="188.0" cy="59.4" r="3.0" fill="#fff"/><circle cx="331.5" cy="59.4" r="3.0" fill="#fff"/><circle cx="198.8" cy="103.6" r="3.0" fill="#fff"/><circle cx="358.8" cy="103.6" r="3.0" fill="#fff"/><circle cx="206.5" cy="147.7" r="3.0" fill="#fff"/><circle cx="380.8" cy="147.7" r="3.0" fill="#fff"/><circle cx="217.0" cy="191.9" r="3.0" fill="#fff"/><circle cx="400.8" cy="191.9" r="3.0" fill="#fff"/><circle cx="228.4" cy="236.1" r="3.0" fill="#fff"/><circle cx="438.3" cy="236.1" r="3.0" fill="#fff"/><circle cx="240.0" cy="280.2" r="3.0" fill="#fff"/><circle cx="477.5" cy="280.2" r="3.0" fill="#fff"/><circle cx="248.8" cy="324.4" r="3.0" fill="#fff"/><circle cx="497.0" cy="324.4" r="3.0" fill="#fff"/><circle cx="269.7" cy="368.5" r="3.0" fill="#fff"/><circle cx="545.2" cy="368.5" r="3.0" fill="#fff"/><circle cx="295.2" cy="412.7" r="3.0" fill="#fff"/><circle cx="318.8" cy="456.9" r="3.0" fill="#fff"/><circle cx="355.2" cy="501.0" r="3.0" fill="#fff"/><circle cx="316.5" cy="537.3" r="3.0" fill="#fff"/><circle cx="316.6" cy="564.7" r="3.0" fill="#fff"/><circle cx="317.4" cy="592.1" r="3.0" fill="#fff"/><circle cx="318.2" cy="619.6" r="3.0" fill="#fff"/><circle cx="318.3" cy="647.0" r="3.0" fill="#fff"/><circle cx="316.7" cy="674.4" r="3.0" fill="#fff"/><circle cx="315.2" cy="701.8" r="3.0" fill="#fff"/><circle cx="315.8" cy="729.2" r="3.0" fill="#fff"/><circle cx="318.8" cy="756.7" r="3.0" fill="#fff"/><circle cx="322.9" cy="784.1" r="3.0" fill="#fff"/><circle cx="327.7" cy="811.5" r="3.0" fill="#fff"/><circle cx="332.8" cy="838.9" r="3.0" fill="#fff"/><circle cx="337.5" cy="866.3" r="3.0" fill="#fff"/><circle cx="342.5" cy="893.8" r="3.0" fill="#fff"/><circle cx="347.4" cy="921.2" r="3.0" fill="#fff"/><circle cx="352.7" cy="948.6" r="3.0" fill="#fff"/><circle cx="357.7" cy="976.0" r="3.0" fill="#fff"/><circle cx="359.6" cy="1003.4" r="3.0" fill="#fff"/><circle cx="664.5" cy="948.6" r="3.0" fill="#fff"/><circle cx="707.7" cy="976.0" r="3.0" fill="#fff"/><circle cx="778.0" cy="1003.4" r="3.0" fill="#fff"/>
<text x="553" y="205.2" class="cal" textLength="196" lengthAdjust="spacingAndGlyphs" style="font-size:25.5px">Size Dependence</text><rect x="553.2" y="217.2" width="86.5" height="86.5" fill="#808080" stroke="#2b2b2b" stroke-width="1"/><g fill="#ed7d31"><rect x="591.5" y="230.8" width="9.8" height="58.8"/><rect x="567.0" y="255.3" width="58.8" height="9.8"/><rect x="591.5" y="230.8" width="34.3" height="9.8"/><rect x="616.0" y="255.3" width="9.8" height="34.3"/><rect x="567.0" y="279.8" width="34.3" height="9.8"/><rect x="567.0" y="230.8" width="9.8" height="34.3"/></g><g fill="#000"><rect x="578.0" y="295.3" width="38.0" height="2.6"/><polygon points="568.0,296.6 579.0,292.4 579.0,300.8"/><polygon points="626.0,296.6 615.0,292.4 615.0,300.8"/></g><g fill="#000"><rect x="643.6" y="259.5" width="8.7" height="1.8"/><polygon points="657.3,260.4 651.3,257.1 651.3,263.7"/></g><rect x="661.3" y="217.2" width="86.5" height="86.5" fill="#808080" stroke="#2b2b2b" stroke-width="1"/><g fill="#ed7d31"><rect x="699.6" y="220.6" width="9.9" height="79.8"/><rect x="664.7" y="255.6" width="79.8" height="9.9"/><rect x="699.6" y="220.6" width="44.9" height="9.9"/><rect x="734.6" y="255.6" width="9.9" height="44.8"/><rect x="664.7" y="290.5" width="44.8" height="9.9"/><rect x="664.7" y="220.6" width="9.9" height="44.8"/></g><text x="580.6" y="320.5" class="cal" textLength="31.6" lengthAdjust="spacingAndGlyphs" style="font-size:18.5px">Size</text><text x="463.5" y="695.2" class="cal" textLength="262" lengthAdjust="spacingAndGlyphs" style="font-size:25.5px">Periodicity Dependence</text><rect x="508.3" y="721.1" width="64.7" height="64.7" fill="#808080" stroke="#2b2b2b" stroke-width="1"/><g fill="#ed7d31"><rect x="535.9" y="724.3" width="9.8" height="58.5"/><rect x="511.6" y="748.6" width="58.5" height="9.8"/><rect x="535.9" y="724.3" width="34.2" height="9.8"/><rect x="560.3" y="748.6" width="9.8" height="34.2"/><rect x="511.6" y="773.0" width="34.1" height="9.8"/><rect x="511.6" y="724.3" width="9.8" height="34.1"/></g><g fill="#000"><rect x="518.6" y="790.6" width="45.1" height="2.6"/><polygon points="508.6,791.9 519.6,787.7 519.6,796.1"/><polygon points="573.7,791.9 562.7,787.7 562.7,796.1"/></g><g fill="#000"><rect x="576.7" y="752.5" width="8.6" height="1.8"/><polygon points="590.3,753.4 584.3,750.1 584.3,756.7"/></g><rect x="594.3" y="710.4" width="86.3" height="86.3" fill="#808080" stroke="#2b2b2b" stroke-width="1"/><g fill="#ed7d31"><rect x="632.5" y="724.2" width="10.0" height="58.4"/><rect x="608.3" y="748.4" width="58.4" height="10.0"/><rect x="632.5" y="724.2" width="34.2" height="10.0"/><rect x="656.7" y="748.4" width="10.0" height="34.2"/><rect x="608.3" y="772.6" width="34.2" height="10.0"/><rect x="608.3" y="724.2" width="10.0" height="34.2"/></g><text x="496.5" y="818.5" class="cal" textLength="88.5" lengthAdjust="spacingAndGlyphs" style="font-size:18.4px">Periodicity</text>
<rect x="454.8" y="66.3" width="270.8" height="15.4" fill="url(#cbg)" stroke="#000" stroke-width="1.6"/><line x1="456.6" y1="82" x2="456.6" y2="99" stroke="#000" stroke-width="1.6"/><text x="456.6" y="129.8" text-anchor="middle" class="ax" style="font-size:24px">0.0</text><line x1="510.2" y1="82" x2="510.2" y2="99" stroke="#000" stroke-width="1.6"/><text x="510.2" y="129.8" text-anchor="middle" class="ax" style="font-size:24px">0.2</text><line x1="563.7" y1="82" x2="563.7" y2="99" stroke="#000" stroke-width="1.6"/><text x="563.7" y="129.8" text-anchor="middle" class="ax" style="font-size:24px">0.4</text><line x1="617.3" y1="82" x2="617.3" y2="99" stroke="#000" stroke-width="1.6"/><text x="617.3" y="129.8" text-anchor="middle" class="ax" style="font-size:24px">0.6</text><line x1="670.8" y1="82" x2="670.8" y2="99" stroke="#000" stroke-width="1.6"/><text x="670.8" y="129.8" text-anchor="middle" class="ax" style="font-size:24px">0.8</text><line x1="724.4" y1="82" x2="724.4" y2="99" stroke="#000" stroke-width="1.6"/><text x="724.4" y="129.8" text-anchor="middle" class="ax" style="font-size:24px">1.0</text><text x="590.1" y="160" text-anchor="middle" class="ax" style="font-size:24.4px">Transmission</text>
<rect x="128.0" y="37.3" width="660.6" height="980.6" fill="none" stroke="#000" stroke-width="2"/><line x1="128.0" y1="523.0" x2="788.6" y2="523.0" stroke="#000" stroke-width="2"/><line x1="205.8" y1="515.1" x2="205.8" y2="530.6" stroke="#000" stroke-width="1.6"/><line x1="205.8" y1="1010.0" x2="205.8" y2="1025.5" stroke="#000" stroke-width="1.6"/><text x="205.8" y="1062" text-anchor="middle" class="ax">0.5</text><line x1="303.0" y1="515.1" x2="303.0" y2="530.6" stroke="#000" stroke-width="1.6"/><line x1="303.0" y1="1010.0" x2="303.0" y2="1025.5" stroke="#000" stroke-width="1.6"/><text x="303.0" y="1062" text-anchor="middle" class="ax">1.0</text><line x1="400.2" y1="515.1" x2="400.2" y2="530.6" stroke="#000" stroke-width="1.6"/><line x1="400.2" y1="1010.0" x2="400.2" y2="1025.5" stroke="#000" stroke-width="1.6"/><text x="400.2" y="1062" text-anchor="middle" class="ax">1.5</text><line x1="497.4" y1="515.1" x2="497.4" y2="530.6" stroke="#000" stroke-width="1.6"/><line x1="497.4" y1="1010.0" x2="497.4" y2="1025.5" stroke="#000" stroke-width="1.6"/><text x="497.4" y="1062" text-anchor="middle" class="ax">2.0</text><line x1="594.6" y1="515.1" x2="594.6" y2="530.6" stroke="#000" stroke-width="1.6"/><line x1="594.6" y1="1010.0" x2="594.6" y2="1025.5" stroke="#000" stroke-width="1.6"/><text x="594.6" y="1062" text-anchor="middle" class="ax">2.5</text><line x1="691.8" y1="515.1" x2="691.8" y2="530.6" stroke="#000" stroke-width="1.6"/><line x1="691.8" y1="1010.0" x2="691.8" y2="1025.5" stroke="#000" stroke-width="1.6"/><text x="691.8" y="1062" text-anchor="middle" class="ax">3.0</text><line x1="789.0" y1="515.1" x2="789.0" y2="530.6" stroke="#000" stroke-width="1.6"/><line x1="789.0" y1="1010.0" x2="789.0" y2="1025.5" stroke="#000" stroke-width="1.6"/><text x="789.0" y="1062" text-anchor="middle" class="ax">3.5</text><line x1="113" y1="103.6" x2="128.0" y2="103.6" stroke="#000" stroke-width="1.6"/><text x="104.5" y="114.8" text-anchor="end" class="ax">70</text><line x1="113" y1="191.9" x2="128.0" y2="191.9" stroke="#000" stroke-width="1.6"/><text x="104.5" y="203.1" text-anchor="end" class="ax">60</text><line x1="113" y1="280.2" x2="128.0" y2="280.2" stroke="#000" stroke-width="1.6"/><text x="104.5" y="291.4" text-anchor="end" class="ax">50</text><line x1="113" y1="368.5" x2="128.0" y2="368.5" stroke="#000" stroke-width="1.6"/><text x="104.5" y="379.7" text-anchor="end" class="ax">40</text><line x1="113" y1="456.9" x2="128.0" y2="456.9" stroke="#000" stroke-width="1.6"/><text x="104.5" y="468.1" text-anchor="end" class="ax">30</text><line x1="113" y1="537.3" x2="128.0" y2="537.3" stroke="#000" stroke-width="1.6"/><text x="104.5" y="548.5" text-anchor="end" class="ax">120</text><line x1="113" y1="647.0" x2="128.0" y2="647.0" stroke="#000" stroke-width="1.6"/><text x="104.5" y="658.2" text-anchor="end" class="ax">100</text><line x1="113" y1="756.7" x2="128.0" y2="756.7" stroke="#000" stroke-width="1.6"/><text x="104.5" y="767.9" text-anchor="end" class="ax">80</text><line x1="113" y1="866.3" x2="128.0" y2="866.3" stroke="#000" stroke-width="1.6"/><text x="104.5" y="877.5" text-anchor="end" class="ax">60</text><line x1="113" y1="976.0" x2="128.0" y2="976.0" stroke="#000" stroke-width="1.6"/><text x="104.5" y="987.2" text-anchor="end" class="ax">40</text><text x="459" y="1114.6" text-anchor="middle" class="ax">Frequency (THz)</text><text transform="translate(30.4,280) rotate(-90)" text-anchor="middle" class="ax">Size (μm)</text><text transform="translate(30.4,771.8) rotate(-90)" text-anchor="middle" class="ax">Periodicity (μm)</text><text x="143" y="501.4" class="bold">B.</text><text x="143" y="574.3" class="bold">D.</text>
</svg>
</body></html>
